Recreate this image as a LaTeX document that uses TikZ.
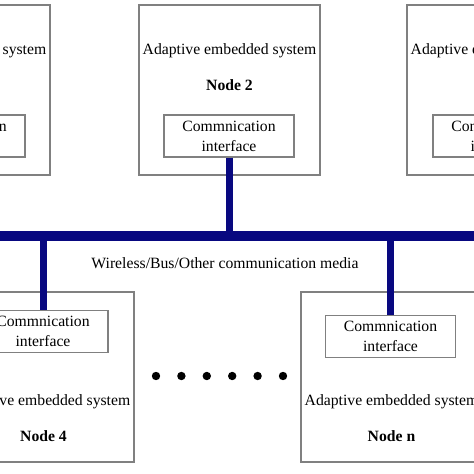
\documentclass[tikz,border=0pt]{standalone}
\usepackage{fontspec}
\setmainfont{Liberation Serif}
\definecolor{busblue}{RGB}{8,8,128}
\definecolor{boxgray}{RGB}{128,128,128}
\tikzset{
  sysbox/.style={draw=boxgray, line width=1.4pt, minimum width=181pt, minimum height=170pt, inner sep=0pt},
  ifbox/.style={draw=boxgray, line width=1.4pt, minimum width=130pt, minimum height=42pt, inner sep=0pt, align=center},
  txt/.style={font=\fontsize{15.7}{20}\selectfont},
  lbl/.style={font=\fontsize{15.7}{20}\selectfont\bfseries},
  link/.style={draw=busblue, line width=7pt},
  bus/.style={draw=busblue, line width=10pt}
}
\begin{document}
\begin{tikzpicture}[x=1pt, y=-1pt]
    \useasboundingbox[fill=white] (0, 0) rectangle (474, 474);
    % upper row (outer boxes run off the page)
    \path (-40.5, 90) node[sysbox](s1) {} (-40, 136) node[ifbox, txt](i1) {Commnication\\interface}
          (-40.5, 51) node[txt](a1) {Adaptive embedded system};
    \path (229.5, 90) node[sysbox](s2) {} (229, 136) node[ifbox, txt](i2) {Commnication\\interface}
          (229.5, 51) node[txt](a2) {Adaptive embedded system} (229.5, 85) node[lbl](l2) {Node 2};
    \path (497.5, 90) node[sysbox](s3) {} (498, 136) node[ifbox, txt](i3) {Commnication\\interface}
          (497.5, 51) node[txt](a3) {Adaptive embedded system};
    % lower row
    \path (43.5, 377) node[sysbox](s4) {} (43, 331.5) node[ifbox, txt](i4) {Commnication\\interface}
          (43.5, 402) node[txt](a4) {Adaptive embedded system} (43.5, 436) node[lbl](l4) {Node 4};
    \path (391.5, 377) node[sysbox](sn) {} (390.5, 336.5) node[ifbox, txt](in) {Commnication\\interface}
          (391.5, 402) node[txt](an) {Adaptive embedded system} (391.5, 436) node[lbl](ln) {Node n};
    % medium
    \path (-10, 236) coordinate(busl) (484, 236) coordinate(busr);
    \draw[bus] (busl) -- (busr);
    \path (225, 263) node[txt](media) {Wireless/Bus/Other communication media};
    \draw[link] (i2.south) -- (i2.south |- busl);
    \draw[link] (i4.north) -- (i4.north |- busl);
    \draw[link] (in.north) -- (in.north |- busl);
    \foreach \k in {0,...,5}
        \fill (156 + \k*25.4, 376) circle (4.2);
\end{tikzpicture}
\end{document}
